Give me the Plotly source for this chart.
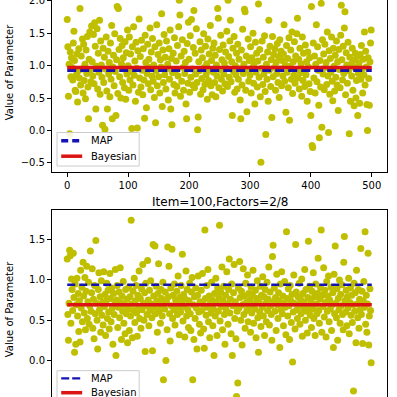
import plotly.graph_objects as go

# ---------------- data ----------------
top_values = [
    1.71, 1.29, 0.53, 1.02, -0.05, 1.21, 0.83, 1.12, 0.97, 0.78, 1.35, 1.53, 1.08, 0.62, 0.60, 0.86, 1.18, 0.44, 0.92, 1.26,
    0.81, 1.88, 0.70, 1.15, 0.95, 1.41, 0.58, 1.33, 0.77, 1.02, 0.49, 1.24, 0.88, 1.45, 0.67, 0.18, 1.10, 1.52, 0.93, 0.75,
    1.61, 1.06, 0.84, 1.48, 0.72, 1.66, 1.30, 0.33, 0.99, 1.57, 0.64, 1.19, 0.90, 1.70, 0.56, 1.38, 1.01, 0.82, 0.08, 1.27,
    0.74, 1.13, 0.02, 0.95, 1.44, 0.61, 0.33, 1.22, 0.87, 1.05, 0.52, 1.35, 0.79, 1.62, 0.18, 0.98, 1.16, 0.69, 1.49, 0.91,
    0.23, 1.09, 1.91, 0.57, 1.88, 1.25, 0.83, 1.42, 0.50, 1.03, 1.31, 0.74, 1.12, 0.95, 0.66, 1.37, 0.48, 1.20, 0.87, 1.55,
    1.00, 0.62, 1.44, 0.78, 1.18, 0.91, 0.03, 1.29, 0.70, 1.60, 0.85, 1.07, 0.45, 1.36, 0.96, 0.04, 1.23, 0.59, 1.72, 0.81,
    1.14, 0.67, 1.39, 0.93, 0.55, 1.26, 0.78, 0.19, 1.47, 1.05, 0.35, 0.88, 1.33, 0.72, 1.10, 0.97, 1.58, 0.63, 1.21, 0.84,
    1.42, 0.76, 1.01, 0.51, 1.29, 0.12, 0.92, 1.63, 0.69, 1.17, 0.83, 1.35, 0.58, 1.09, 0.98, 1.80, 0.37, 1.24, 0.74, 1.48,
    0.86, 1.13, 0.64, 1.38, 0.95, 1.02, 0.47, 1.26, 0.79, 1.55, 0.33, 1.11, 0.09, 0.89, 1.19, 0.71, 1.43, 0.58, 0.93, 1.07,
    0.68, 1.31, 0.84, 1.60, 2.01, 1.78, 0.53, 1.15, 0.76, 1.40, 0.97, 0.62, 1.22, 0.88, 1.05, 0.41, 0.18, 1.34, 0.73, 1.67,
    1.10, 0.59, 1.46, 0.82, 1.71, 0.95, 0.70, 1.28, 1.85, 0.66, 1.19, 0.87, 1.57, 0.74, 0.01, 0.21, 1.06, 0.92, 1.37, 0.56,
    1.24, 0.80, 1.12, 0.63, 1.49, 0.97, 0.71, 1.30, 0.86, 1.03, 0.48, 1.41, 0.77, 1.18, 0.93, 1.62, 0.69, 1.08, 0.55, 1.27,
    0.90, 1.35, 0.74, 1.16, 0.52, 1.01, 0.84, 1.88, 1.73, 0.66, 1.25, 0.94, 1.47, 0.79, 1.09, 0.61, 1.32, 0.87, 1.04, 0.72,
    1.21, 0.96, 1.53, 0.68, 2.01, 1.14, 0.82, 1.38, 1.70, 0.75, 1.06, 0.23, 1.27, 0.91, 1.45, 0.59, 1.00, 0.86, 1.19, 0.64,
    1.33, 0.79, 1.10, 0.95, 0.47, 0.18, 1.24, 0.70, 1.56, 0.88, 1.02, 1.87, 1.83, 0.62, 1.15, 0.29, 0.93, 1.41, 0.76, 1.08,
    0.85, 1.29, 0.58, 1.12, 0.97, 1.50, 0.73, 1.04, 0.41, 1.36, 0.90, 1.19, 0.67, 1.07, 1.95, 0.82, 1.25, 0.52, -0.49, 0.96,
    1.38, 0.71, 1.13, 0.87, 1.46, 0.60, -0.06, 1.02, 0.79, 1.21, 0.45, 1.70, 0.93, 1.30, 0.68, 1.09, 0.20, 1.45, 0.83, 1.17,
    0.97, 1.26, 0.62, 1.05, 0.88, 1.34, 0.74, 1.14, 0.51, 1.40, 0.95, 1.22, 0.69, 1.08, 0.84, 1.18, 1.63, 0.76, 1.01, 0.28,
    1.31, 0.90, 1.11, 0.66, 1.43, 0.16, 0.99, 1.24, 0.79, 1.52, 0.57, 1.06, 0.85, 1.37, 0.73, 1.15, 0.94, 1.49, 1.73, 0.81,
    1.10, 0.64, 1.27, 0.89, 1.03, 0.53, 1.44, 0.77, 1.19, 0.92, 0.68, 1.32, 0.86, 1.06, 0.45, 1.21, 0.98, 0.72, 1.12, 0.60,
    0.23, 1.91, -0.23, -0.26, 1.35, 0.81, 1.15, 0.58, 1.02, 1.63, 0.75, 1.29, 0.93, 0.39, -0.11, 1.08, 0.67, 1.96, 0.05, 1.40,
    0.87, 1.18, 0.63, 1.33, 0.97, 1.05, 0.71, 1.52, 0.84, -0.03, 1.23, 0.56, 1.11, 0.90, 1.44, 0.76, 0.46, 1.27, 0.99, 0.61,
    1.16, 0.82, 1.38, 0.70, 1.06, 0.31, 1.25, 0.94, 0.66, 1.47, 1.93, 1.09, 0.78, 1.30, 0.88, 1.58, 1.83, 0.55, 1.20, 1.01,
    0.73, 1.36, 0.92, -0.05, 1.13, 0.45, 1.02, 0.84, 1.27, 0.62, 1.08, 0.38, 0.97, 1.19, 0.50, 0.77, 1.14, 0.23, 0.88, 1.04,
    0.42, 1.17, 0.79, 1.31, 0.95, 0.58, 1.10, 0.86, 1.52, 0.70, 1.22, 0.98, 0.40, 0.00, 1.12, 0.80, 0.39, 1.06, 1.35, 1.55,
]

bottom_values = [
    1.26, 0.57, 0.25, 0.71, 1.37, 1.30, 0.46, 1.01, 0.88, 0.62, 1.33, 0.78, 0.10, 0.95, 0.20, 0.69, 1.02, 0.55, 0.83, 0.36,
    0.74, 0.23, 1.12, 0.65, 0.91, 0.48, 1.22, 0.80, 0.59, 1.03, 0.38, 0.86, 1.17, 0.52, 0.73, 0.97, 0.45, 0.68, 1.36, 0.61,
    0.84, 1.14, 0.40, 0.76, 0.27, 0.93, 0.58, 1.49, 0.71, 0.50, 0.14, 0.88, 1.09, 0.63, 0.79, 0.35, 0.99, 0.56, 0.72, 0.44,
    1.10, 0.67, 0.82, 0.31, 0.74, 0.96, 0.52, 0.87, 0.60, 0.39, 1.08, 0.77, 0.48, 0.90, 0.65, 0.20, 0.83, 0.57, 0.70, 1.13,
    0.06, 0.75, 0.93, 0.41, 0.66, 0.85, 0.53, 1.15, 0.72, 0.26, 0.80, 0.61, 0.98, 0.46, 0.69, 0.33, 0.88, 0.58, 0.76, 0.22,
    0.64, 0.91, 0.37, 0.79, 0.55, 1.74, 0.70, 0.28, 0.86, 0.62, 1.02, 0.47, 0.74, 0.93, 0.59, 0.30, 0.81, 0.67, 1.11, 0.52,
    0.77, 0.40, 0.89, 0.63, 1.19, 0.71, 0.50, 0.84, 0.11, 0.96, 0.68, 0.57, 1.24, 0.75, 0.43, 0.87, 0.62, 0.99, 0.70, 0.53,
    0.12, 1.44, 0.80, 0.66, 1.42, 0.58, 0.92, 0.74, 0.35, 0.83, 1.20, 0.61, 0.69, 0.46, 0.88, 0.77, 0.55, 0.97, -0.24, 0.72,
    0.64, 0.85, 0.00, 0.73, 0.38, 1.41, 0.79, 1.17, 0.58, 0.24, 0.90, 0.68, 1.38, 0.52, 0.81, 0.63, 0.95, 0.44, 0.75, 0.70,
    0.86, 0.57, 1.05, 0.66, 0.32, 0.78, 0.60, 0.93, 0.71, 1.32, 0.49, 0.82, 0.67, 0.29, 0.76, 1.11, 0.55, 0.88, 0.63, 0.41,
    0.74, 0.96, 0.58, 0.37, 0.85, 1.03, -0.24, 0.69, 0.26, 0.79, 0.52, 0.90, 0.65, 0.14, 0.81, 1.05, 0.60, 0.45, 0.73, 0.34,
    0.87, 0.62, 1.08, 0.70, 0.39, 0.15, 1.62, 0.77, 0.56, 0.93, 0.66, 1.13, 0.48, 0.80, 0.28, 0.71, 0.59, 0.97, 0.75, 0.43,
    0.64, 0.06, 0.83, 0.55, 1.02, 0.72, 0.31, 0.90, 0.61, 0.78, 1.68, 0.49, 0.85, 0.67, 1.16, 0.38, 0.74, 0.92, 0.57, 0.20,
    0.81, 0.63, 1.10, 0.70, 0.45, 0.88, 1.26, 0.59, 0.76, 0.33, 0.95, 0.06, 0.68, 0.84, 1.19, 0.52, 0.73, 0.27, -0.45, 0.61,
    -0.28, 0.90, 0.65, 1.23, 0.78, 0.50, 0.86, 0.19, 0.69, 1.14, 0.57, 0.80, 0.40, 0.96, 0.72, 0.62, 1.06, 0.48, 0.83, 0.67,
    0.75, 0.35, 0.91, 0.59, 0.82, 1.12, 0.46, 0.70, 0.64, 0.87, 0.28, 0.77, 0.99, 0.53, 0.10, 0.73, 0.60, 0.92, 0.42, 0.81,
    0.66, 1.04, 0.55, 0.79, 0.31, 0.88, 0.71, 0.48, 0.97, 0.62, 0.76, 1.16, 0.44, 0.85, 0.68, 0.57, 0.25, 1.29, 1.43, 0.73,
    0.90, 0.61, 0.78, 0.37, 1.07, 0.69, 0.52, 0.84, 0.74, 0.16, 0.95, 0.63, 1.10, 0.58, 0.80, 0.43, 0.71, 0.98, 0.66, 0.32,
    1.60, 0.77, 0.55, 0.89, 0.68, 0.26, 0.93, 0.74, 0.47, 0.82, -0.02, 0.60, 1.06, 0.71, 0.39, 1.44, 0.85, 0.63, 0.52, 0.79,
    0.69, 0.96, 0.45, 0.76, 0.58, 1.01, 0.30, 0.83, 0.65, 0.72, 1.13, 0.50, 0.88, 0.61, 0.34, 0.78, 1.48, 0.67, 0.92, 0.56,
    0.74, 0.41, 0.86, 0.64, 1.09, 0.52, 0.79, 0.31, 0.95, 0.70, 0.58, 0.83, 1.27, 0.62, 0.46, 0.76, 0.90, 1.62, 0.35, 0.81,
    0.67, 1.15, 0.54, 0.87, 0.72, 0.29, 0.98, 0.61, 0.80, 1.05, 0.48, 0.75, 0.64, 0.91, 0.37, 0.69, 0.84, 0.16, 1.07, 0.58,
    1.42, 0.71, 0.53, 0.89, 0.25, 0.77, 0.63, 1.00, 0.46, 0.82, 0.68, 0.94, 0.57, 0.38, 1.22, 1.54, 0.74, 0.60, 0.87, 0.43,
    0.79, 0.65, 1.02, 0.33, 0.72, 0.90, 0.56, 0.81, 0.47, 0.69, -0.38, 0.96, 0.61, 0.84, 0.22, 1.12, 0.70, 0.53, 0.88, 0.40,
    0.76, 0.63, 1.39, 0.57, 0.86, 0.21, 0.74, 0.98, 0.66, 1.60, 0.45, 0.81, 0.35, 0.70, 1.33, 0.19, 0.55, 0.89, 0.62, -0.03,
]

x_index = list(range(len(top_values)))
line_x = [0, 500]

top_map = 0.93
top_bayes = 0.97
bottom_map = 0.94
bottom_bayes = 0.69

x_ticks = [0, 100, 200, 300, 400, 500]
top_y_ticks = [-0.5, 0.0, 0.5, 1.0, 1.5, 2.0]
bottom_y_ticks = [0.0, 0.5, 1.0, 1.5]

bottom_title = "Item=100,Factors=2/8"
y_label = "Value of Parameter"
series_names = ["MAP", "Bayesian"]

# ---------------- styles ----------------
POINT = "#bfbf00"
BLUE = "#1414b4"
RED = "#dc1414"
FONT = "DejaVu Sans"

W, H = 397, 397
L, R = 52.3, 387.3
top_bottom_px = 171.7
bot_top_px = 210.3


def px_x(p):
    return (p - L) / (R - L)


def px_y(p):
    return (H - p) / H


fig = go.Figure()

# top panel
fig.add_trace(go.Scatter(x=x_index, y=top_values, mode="markers",
                         marker=dict(color=POINT, size=7, line=dict(width=0)),
                         xaxis="x", yaxis="y", showlegend=False, hoverinfo="skip"))
fig.add_trace(go.Scatter(x=line_x, y=[top_map, top_map], mode="lines", name=series_names[0],
                         line=dict(color=BLUE, width=3.5, dash="9px,4px"),
                         xaxis="x", yaxis="y", showlegend=False))
fig.add_trace(go.Scatter(x=line_x, y=[top_bayes, top_bayes], mode="lines", name=series_names[1],
                         line=dict(color=RED, width=3.5),
                         xaxis="x", yaxis="y", showlegend=False))

# bottom panel
fig.add_trace(go.Scatter(x=x_index, y=bottom_values, mode="markers",
                         marker=dict(color=POINT, size=7, line=dict(width=0)),
                         xaxis="x2", yaxis="y2", showlegend=False, hoverinfo="skip"))
fig.add_trace(go.Scatter(x=line_x, y=[bottom_map, bottom_map], mode="lines", name=series_names[0],
                         line=dict(color=BLUE, width=2.3, dash="8px,4px"),
                         xaxis="x2", yaxis="y2", showlegend=False))
fig.add_trace(go.Scatter(x=line_x, y=[bottom_bayes, bottom_bayes], mode="lines", name=series_names[1],
                         line=dict(color=RED, width=3.5),
                         xaxis="x2", yaxis="y2", showlegend=False))

axis_common = dict(showgrid=False, zeroline=False, linecolor="black", linewidth=1,
                   ticks="outside", ticklen=4, tickwidth=1, tickcolor="black",
                   ticklabeloverflow="allow",
                   tickfont=dict(family=FONT, size=10, color="black"))

# ----- hand-drawn legends (matplotlib style) -----
shapes = []
annotations = []


def add_legend(box_top, box_bottom, map_y, bayes_y, map_width, map_dash):
    shapes.append(dict(type="rect", xref="paper", yref="paper",
                       x0=px_x(57.3), x1=px_x(139.5), y0=px_y(box_bottom), y1=px_y(box_top),
                       line=dict(color="#cccccc", width=1), fillcolor="rgba(255,255,255,0.85)",
                       layer="above"))
    shapes.append(dict(type="line", xref="paper", yref="paper",
                       x0=px_x(61.5), x1=px_x(82.5), y0=px_y(map_y), y1=px_y(map_y),
                       line=dict(color=BLUE, width=map_width, dash=map_dash), layer="above"))
    shapes.append(dict(type="line", xref="paper", yref="paper",
                       x0=px_x(61.5), x1=px_x(82.5), y0=px_y(bayes_y), y1=px_y(bayes_y),
                       line=dict(color=RED, width=3.5), layer="above"))
    for name, yy in zip(series_names, [map_y, bayes_y]):
        annotations.append(dict(text=name, xref="paper", yref="paper", x=px_x(89.3), y=px_y(yy),
                                xanchor="left", yanchor="middle", showarrow=False,
                                font=dict(family=FONT, size=10, color="black")))


add_legend(132.5, 166.0, 140.7, 156.2, 3.5, "7px,4px")
add_legend(370.7, 404.0, 378.3, 392.7, 2.3, "8px,3px")

annotations += [
    dict(text=bottom_title, xref="paper", yref="paper", x=0.5, y=px_y(202),
         xanchor="center", yanchor="middle", showarrow=False,
         font=dict(family=FONT, size=12, color="black")),
    dict(text=y_label, xref="paper", yref="paper", x=px_x(10), y=px_y(72.5),
         xanchor="center", yanchor="middle", textangle=-90, showarrow=False,
         font=dict(family=FONT, size=10, color="black")),
    dict(text=y_label, xref="paper", yref="paper", x=px_x(10), y=px_y(309.5),
         xanchor="center", yanchor="middle", textangle=-90, showarrow=False,
         font=dict(family=FONT, size=10, color="black")),
]

fig.update_layout(
    width=W, height=H,
    margin=dict(l=L, r=W - R, t=0, b=0, pad=0, autoexpand=False),
    paper_bgcolor="white", plot_bgcolor="white",
    font=dict(family=FONT, size=10, color="black"),
    showlegend=False,
    xaxis=dict(axis_common, domain=[0, 1], range=[-25, 525], tickvals=x_ticks,
               showline=True, mirror=False, anchor="y"),
    yaxis=dict(axis_common, domain=[px_y(top_bottom_px), 1], range=[-0.635, 2.012],
               tickvals=top_y_ticks, tickformat=".1f", showline=True, mirror=True, anchor="x"),
    xaxis2=dict(axis_common, domain=[0, 1], range=[-25, 525], tickvals=x_ticks,
                showline=True, mirror=False, side="top", ticks="", showticklabels=False,
                anchor="y2"),
    yaxis2=dict(axis_common, domain=[0, px_y(bot_top_px)], range=[-0.455, 1.865],
                tickvals=bottom_y_ticks, tickformat=".1f", showline=True, mirror=True, anchor="x2"),
    shapes=shapes,
    annotations=annotations,
)

fig.write_html("out.html", config={"displayModeBar": False},
               post_script="document.body.style.margin='0';document.body.style.overflow='hidden';")
